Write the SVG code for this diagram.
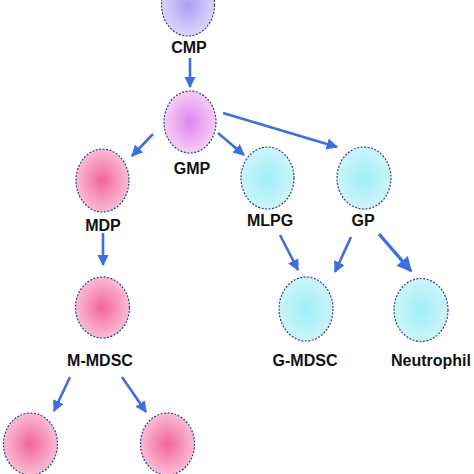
<svg xmlns="http://www.w3.org/2000/svg" width="474" height="474" viewBox="0 0 474 474">
<defs>
<radialGradient id="gPurple" cx="0.5" cy="0.5" r="0.5"><stop offset="0" stop-color="#ab9ef4"/><stop offset="1" stop-color="#dcd4fa"/></radialGradient>
<radialGradient id="gViolet" cx="0.5" cy="0.5" r="0.5"><stop offset="0" stop-color="#df84ef"/><stop offset="1" stop-color="#f6cdf6"/></radialGradient>
<radialGradient id="gPink" cx="0.5" cy="0.5" r="0.5"><stop offset="0" stop-color="#f2649a"/><stop offset="1" stop-color="#fabcd4"/></radialGradient>
<radialGradient id="gBlue" cx="0.5" cy="0.5" r="0.5"><stop offset="0" stop-color="#9eeef8"/><stop offset="1" stop-color="#cdf4fa"/></radialGradient>
<marker id="ah" viewBox="0 0 10 10" refX="9" refY="5" markerWidth="4.4" markerHeight="4.4" orient="auto" markerUnits="strokeWidth"><path d="M0,0 L10,5 L0,10 z" fill="#3d6fe2"/></marker>
<style>
.cell{stroke:#2d3f86;stroke-width:1.2;stroke-dasharray:2 1.5}
.lbl{font-family:"Liberation Sans",Arial,sans-serif;font-weight:bold;font-size:16px;fill:#111;text-anchor:middle}
.con line{stroke:#3d6fe2;stroke-width:2.6;marker-end:url(#ah)}
</style>
</defs>
<rect width="474" height="474" fill="#fff"/>
<g class="con" id="connectors">
<line x1="190" y1="58" x2="190" y2="87"/>
<line x1="153" y1="134" x2="132" y2="156"/>
<line x1="218" y1="133" x2="244" y2="155"/>
<line x1="223" y1="113" x2="337" y2="147"/>
<line x1="103" y1="233" x2="103" y2="265"/>
<line x1="280" y1="235" x2="298" y2="270"/>
<line x1="351" y1="237" x2="335" y2="272"/>
<line x1="379" y1="234" x2="411" y2="271" style="stroke-width:3.4"/>
<line x1="70" y1="377" x2="54" y2="411"/>
<line x1="122" y1="377" x2="146" y2="412"/>
</g>
<g id="CMP"><ellipse class="cell" cx="188" cy="5" rx="26.5" ry="31" fill="url(#gPurple)"/><text class="lbl" x="189" y="53">CMP</text></g>
<g id="GMP"><ellipse class="cell" cx="190" cy="122" rx="26" ry="31" fill="url(#gViolet)"/><text class="lbl" x="192" y="174">GMP</text></g>
<g id="MDP"><ellipse class="cell" cx="102.5" cy="180.5" rx="26.5" ry="31.5" fill="url(#gPink)"/><text class="lbl" x="103" y="231">MDP</text></g>
<g id="MLPG"><ellipse class="cell" cx="267.5" cy="178" rx="26.5" ry="31" fill="url(#gBlue)"/><text class="lbl" x="270" y="226">MLPG</text></g>
<g id="GP"><ellipse class="cell" cx="364" cy="178" rx="27" ry="31" fill="url(#gBlue)"/><text class="lbl" x="363" y="226">GP</text></g>
<g id="M-MDSC"><ellipse class="cell" cx="102.5" cy="307.5" rx="27" ry="30.5" fill="url(#gPink)"/><text class="lbl" x="100" y="366">M-MDSC</text></g>
<g id="G-MDSC"><ellipse class="cell" cx="306" cy="309" rx="27" ry="32" fill="url(#gBlue)"/><text class="lbl" x="305" y="366">G-MDSC</text></g>
<g id="Neutrophil"><ellipse class="cell" cx="421" cy="310" rx="27" ry="31.5" fill="url(#gBlue)"/><text class="lbl" x="431" y="366">Neutrophil</text></g>
<g id="Mleft"><ellipse class="cell" cx="30.5" cy="444" rx="27" ry="31" fill="url(#gPink)"/></g>
<g id="Mright"><ellipse class="cell" cx="167.5" cy="444" rx="27" ry="31" fill="url(#gPink)"/></g>
</svg>
